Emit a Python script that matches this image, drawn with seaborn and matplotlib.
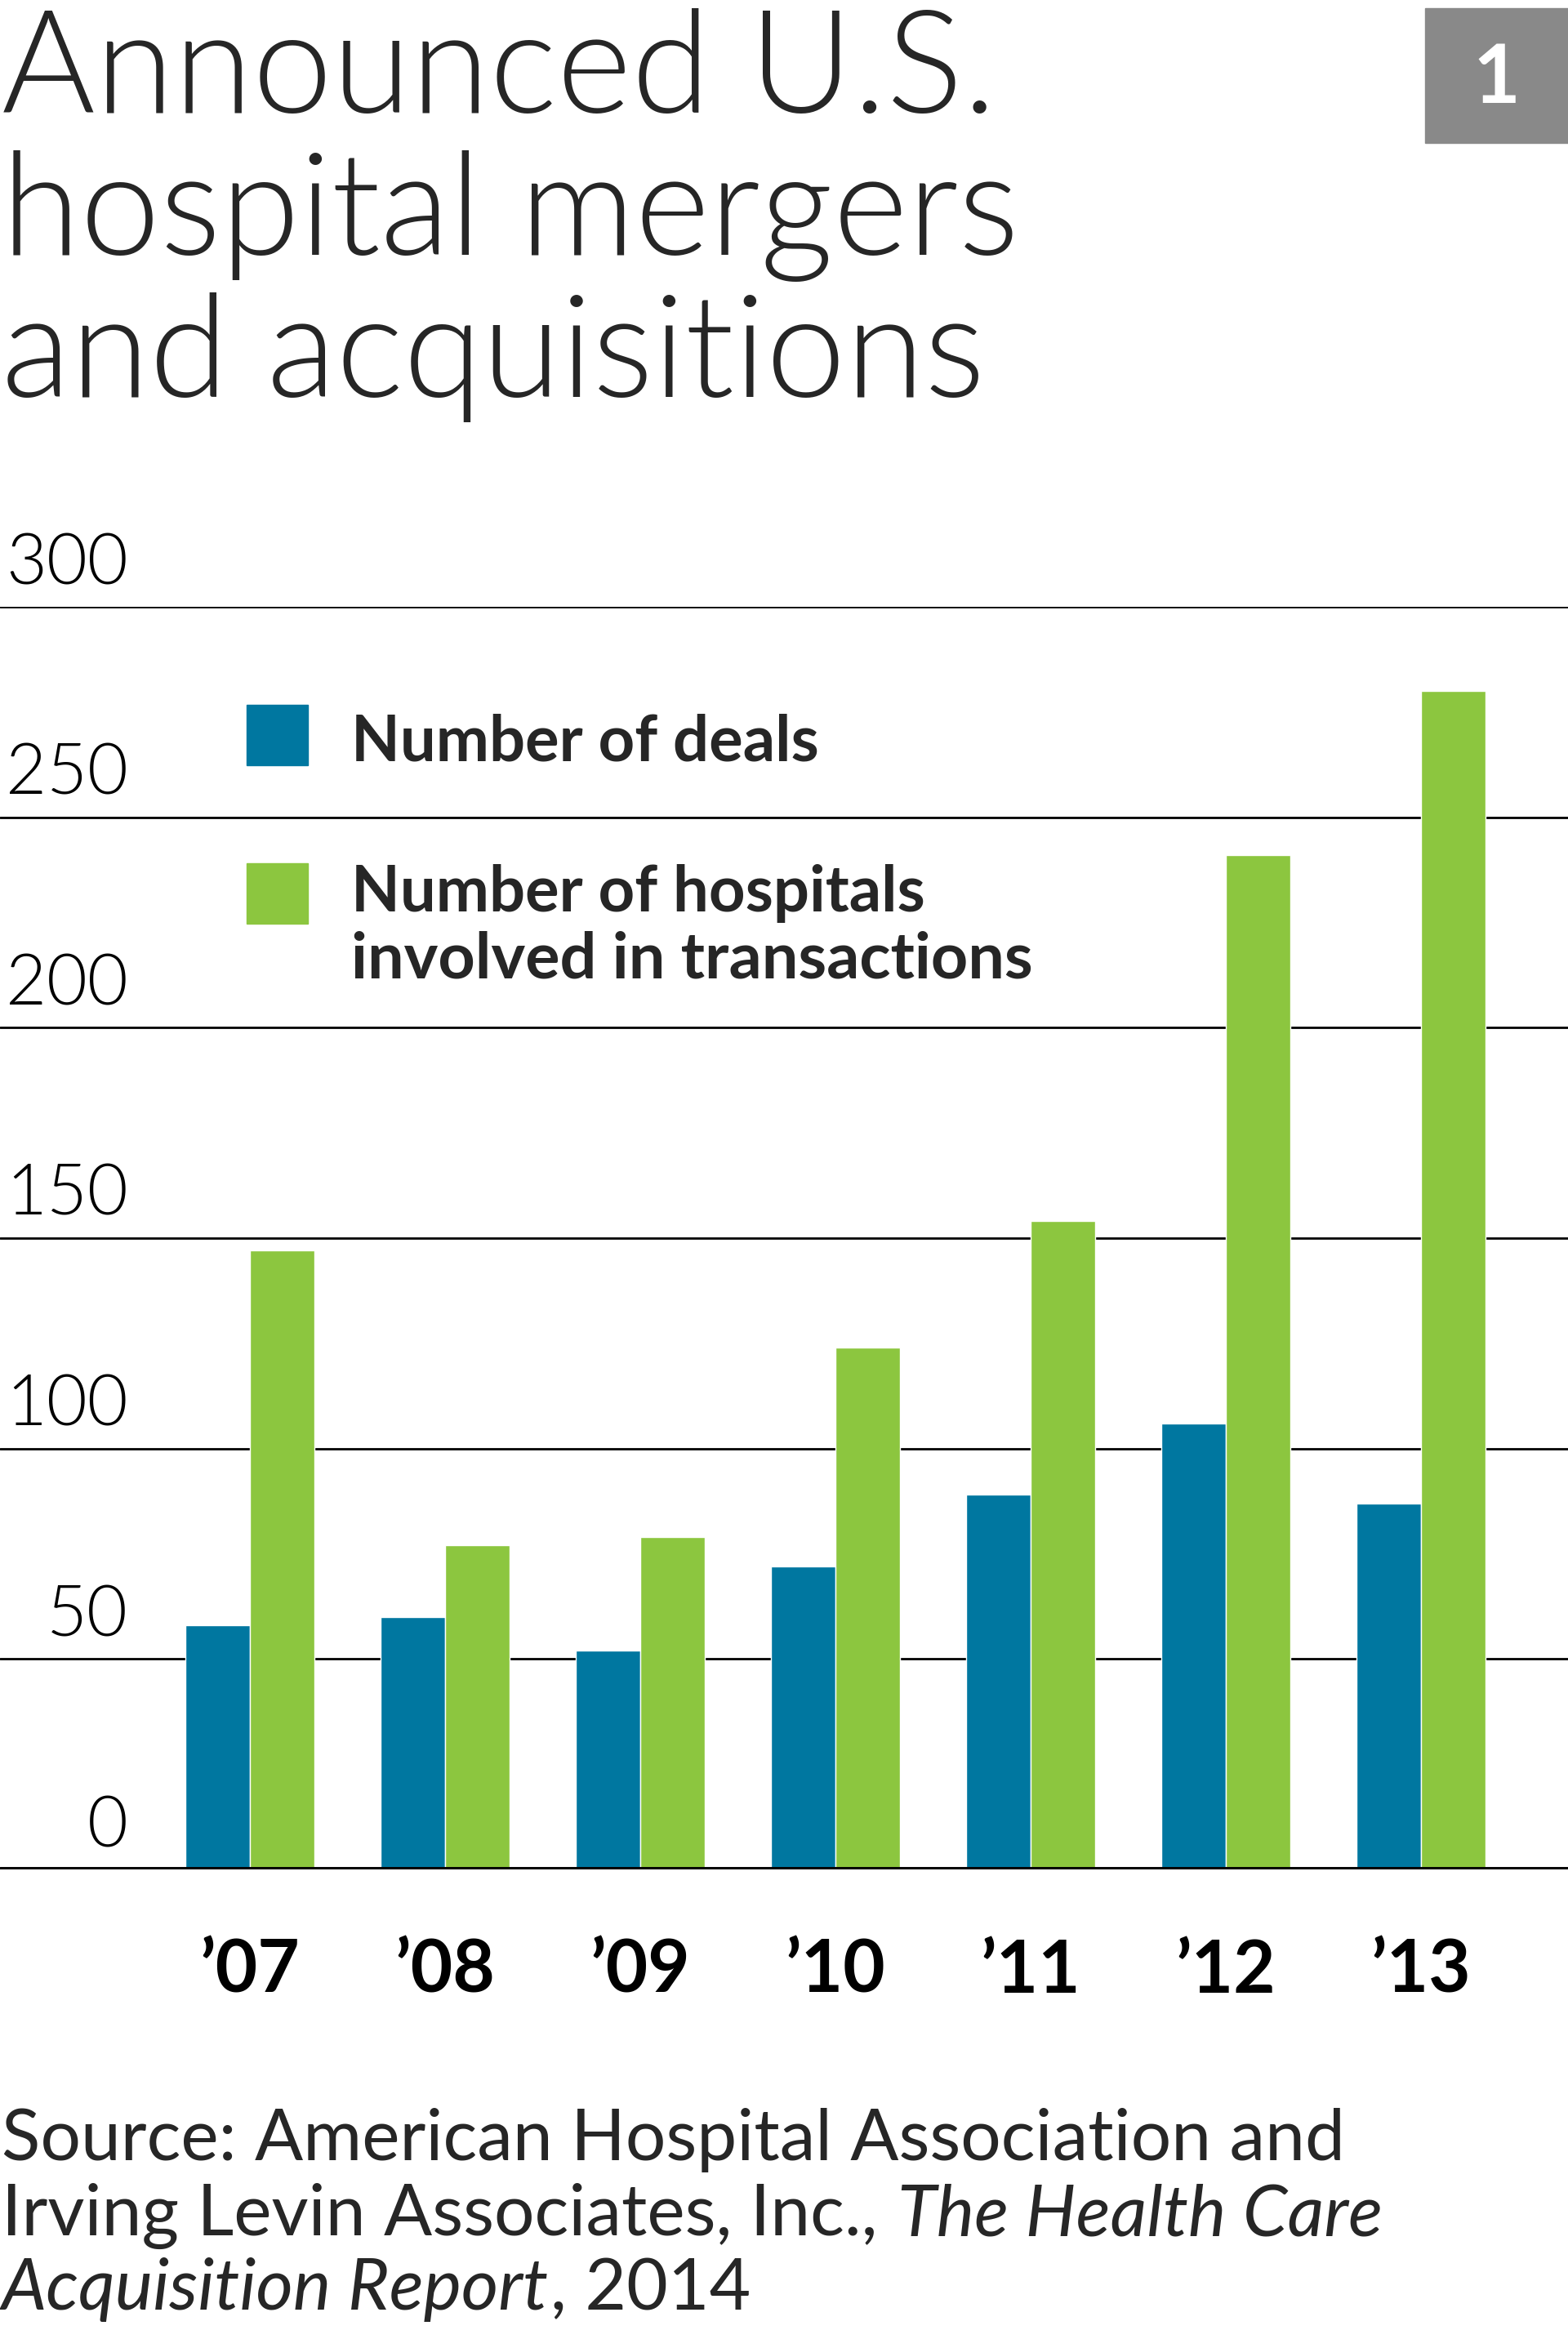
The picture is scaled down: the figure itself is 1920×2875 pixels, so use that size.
import matplotlib
matplotlib.use("Agg")
import matplotlib.pyplot as plt
import matplotlib.transforms as mtransforms
from matplotlib.patches import Rectangle
import pandas as pd
import seaborn as sns

years = ["\u201907", "\u201908", "\u201909", "\u201910", "\u201911", "\u201912", "\u201913"]
deals = [58, 60, 52, 72, 89, 106, 87]
hospitals = [147, 77, 79, 124, 154, 241, 280]
series_names = ["Number of deals", "Number of hospitals\ninvolved in transactions"]
y_ticks = [0, 50, 100, 150, 200, 250, 300]

blue = "#0077a0"
green = "#8cc63f"

df = pd.DataFrame({
    "year": years * 2,
    "series": [series_names[0]] * len(years) + [series_names[1]] * len(years),
    "value": deals + hospitals,
})

sns.set_theme(style="white")
plt.rcParams["font.family"] = ["Lato", "DejaVu Sans"]

W, H = 1920, 2875
fig = plt.figure(figsize=(W / 100, H / 100), dpi=100)
ax = fig.add_axes([0, 1 - 2289 / H, 1, (2289 - 743) / H])

sns.barplot(data=df, x="year", y="value", hue="series",
            palette=[blue, green], width=0.66, saturation=1,
            dodge=True, legend=False, ax=ax, zorder=3)

ax.set_ylim(0, 300)
ax.set_xlim(-306 / 239, (W - 306) / 239)
ax.set_yticks(y_ticks)
for v in y_ticks[1:]:
    ax.axhline(v, color="black", lw=2, zorder=1)
ax.axhline(0, color="black", lw=5, zorder=4)
for s in ax.spines.values():
    s.set_visible(False)
ax.set_xlabel("")
ax.set_ylabel("")
ax.tick_params(left=False, bottom=False, labelleft=False, labelbottom=False)

# y labels above the gridlines
blend = mtransforms.blended_transform_factory(fig.transFigure, ax.transData)
lab_tr = mtransforms.offset_copy(blend, fig=fig, y=28, units="dots")
for v in y_ticks:
    ax.text(157 / W, v, str(v), transform=lab_tr, ha="right", va="baseline",
            fontsize=62, fontweight=300, color="black")

# x labels
xblend = mtransforms.blended_transform_factory(ax.transData, fig.transFigure)
for i, yr in enumerate(years):
    ax.text(i, 1 - 2440 / H, yr, transform=xblend, ha="center", va="baseline",
            fontsize=64, fontweight="bold", color="black")

# legend
for yy, col in [(863, blue), (1057, green)]:
    fig.patches.append(Rectangle((302 / W, 1 - (yy + 74) / H), 75 / W, 74 / H,
                                 transform=fig.transFigure, color=col))
fig.text(430 / W, 1 - 932 / H, "Number of deals", fontsize=56, fontweight="bold",
         va="baseline", ha="left")
fig.text(430 / W, 1 - 1116 / H, "Number of hospitals", fontsize=56, fontweight="bold",
         va="baseline", ha="left")
fig.text(430 / W, 1 - 1198 / H, "involved in transactions", fontsize=57, fontweight="bold",
         va="baseline", ha="left")

# title
for txt, base in [("Announced U.S.", 138), ("hospital mergers", 312), ("and acquisitions", 486)]:
    fig.text(2 / W, 1 - base / H, txt, fontsize=126, fontweight=300,
             va="baseline", ha="left")

# number badge
fig.patches.append(Rectangle((1745 / W, 1 - 175 / H), 175 / W, 165 / H,
                             transform=fig.transFigure, color="#898989"))
fig.text(1832 / W, 1 - 126 / H, "1", fontsize=72, fontweight="bold", color="white",
         va="baseline", ha="center")

# source with italic pieces
renderer = fig.canvas.get_renderer()
src_lines = [
    [("Source: American Hospital Association and", "normal")],
    [("Irving Levin Associates, Inc., ", "normal"), ("The Health Care", "italic")],
    [("Acquisition Report", "italic"), (", 2014", "normal")],
]
for line, base in zip(src_lines, [2645, 2737, 2828]):
    x = 2
    for piece, style in line:
        t = fig.text(x / W, 1 - base / H, piece, fontsize=63, fontstyle=style,
                     va="baseline", ha="left")
        x = t.get_window_extent(renderer).x1 + 2

fig.savefig("out.png", dpi=100)
